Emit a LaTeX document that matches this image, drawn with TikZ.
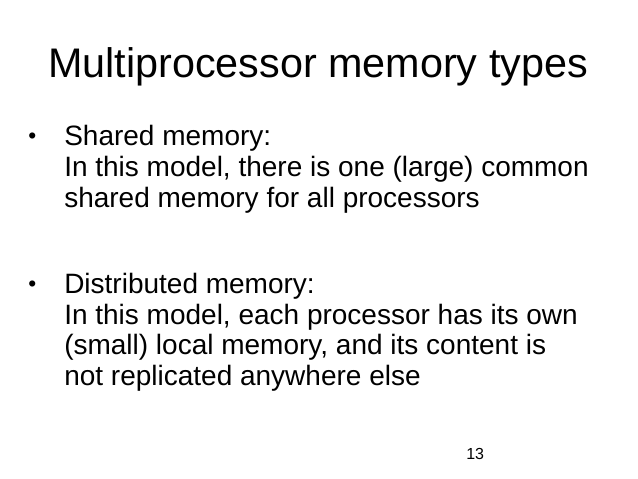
\documentclass[tikz,border=0pt]{standalone}
\usepackage{fontspec}
\setmainfont{Liberation Sans}
\begin{document}
\begin{tikzpicture}[x=0.75pt,y=-0.75pt,
  txt/.style={anchor=base west,inner sep=0pt,font=\fontsize{21}{25}\selectfont},
  bul/.style={anchor=base west,inner sep=0pt,font=\fontsize{17}{20}\selectfont}]
\useasboundingbox[fill=white] (0,0) rectangle (638,478);
\node[anchor=base,inner sep=0pt,font=\fontsize{31}{36}\selectfont] (title) at (318,77) {Multiprocessor memory types};
\node[bul] (b1) at (28,143) {•};
\node[txt] (l1) at (64,145) {Shared memory:};
\node[txt] (l2) at (64,176) {In this model, there is one (large) common};
\node[txt] (l3) at (64,207) {shared memory for all processors};
\node[bul] (b2) at (28,291) {•};
\node[txt] (m1) at (64,293) {Distributed memory:};
\node[txt] (m2) at (64,324) {In this model, each processor has its own};
\node[txt] (m3) at (64,354) {(small) local memory, and its content is};
\node[txt] (m4) at (64,385) {not replicated anywhere else};
\node[anchor=base west,inner sep=0pt,font=\fontsize{12}{14}\selectfont] (pg) at (466,459) {13};
\end{tikzpicture}
\end{document}
